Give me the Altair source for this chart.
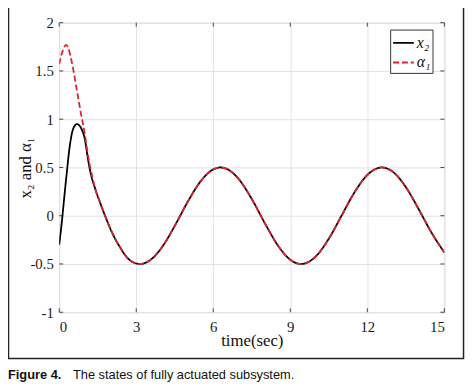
import altair as alt
import pandas as pd

# ---------------- data ----------------
x_ticks = [0, 3, 6, 9, 12, 15]
y_ticks = [-1, -0.5, 0, 0.5, 1, 1.5, 2]
series_names = ["x₂", "α₁"]
series_colors = ["#000000", "#e0202e"]

# transient part of x2 (black, solid)
t_x2_head = [0.0, 0.1, 0.2, 0.3, 0.4, 0.5, 0.6, 0.7, 0.8, 0.9, 1.0, 1.1, 1.2]
v_x2_head = [-0.30, -0.07, 0.20, 0.46, 0.70, 0.86, 0.93, 0.95, 0.93, 0.88, 0.79, 0.62, 0.47]

# transient part of alpha1 (red, dashed)
t_a1_head = [0.0, 0.1, 0.2, 0.27, 0.35, 0.45, 0.55, 0.7, 0.86, 1.0, 1.1, 1.2, 1.3]
v_a1_head = [1.57, 1.68, 1.75, 1.77, 1.74, 1.64, 1.51, 1.28, 1.04, 0.84, 0.66, 0.51, 0.39]

# common part (both curves coincide)
t_tail = [1.4, 1.6, 1.8, 2.0, 2.2, 2.4, 2.6, 2.8, 3.0, 3.14,
          3.5, 4.0, 4.5, 5.0, 5.5, 6.0, 6.28, 6.5, 7.0, 7.5, 8.0, 8.5, 9.0, 9.42,
          10.0, 10.5, 11.0, 11.5, 12.0, 12.57, 13.0, 13.5, 14.0, 14.5, 15.0]
v_tail = [0.28, 0.13, -0.01, -0.14, -0.25, -0.34, -0.42, -0.47, -0.495, -0.5,
          -0.468, -0.327, -0.105, 0.142, 0.354, 0.480, 0.5, 0.488, 0.377, 0.173, -0.073, -0.301, -0.456, -0.5,
          -0.420, -0.238, 0.002, 0.242, 0.422, 0.5, 0.454, 0.297, 0.068, -0.175, -0.380]

caption_bold = "Figure 4."
caption_text = "The states of fully actuated subsystem."

# ---------------- build table ----------------
rows = []
for t, v in zip(t_x2_head + t_tail, v_x2_head + v_tail):
    rows.append({"t": t, "v": v, "s": series_names[0]})
for t, v in zip(t_a1_head + t_tail, v_a1_head + v_tail):
    rows.append({"t": t, "v": v, "s": series_names[1]})
df = pd.DataFrame(rows)

W, H = 391, 294
SERIF = "Liberation Serif"

xs = alt.Scale(domain=[0, 15], nice=False, zero=False)
ys = alt.Scale(domain=[-1, 2], nice=False, zero=False)

legend = alt.Legend(
    title=None, orient="none", legendX=336, legendY=7,
    symbolType="stroke", symbolSize=441, symbolStrokeWidth=2,
    labelFont=SERIF, labelFontStyle="italic", labelFontSize=16, labelColor="#111",
    labelOffset=2, padding=2, rowPadding=0,
    strokeColor="#333", fillColor="white",
)

color_enc = alt.Color("s:N", scale=alt.Scale(domain=series_names, range=series_colors), legend=legend)
dash_enc = alt.StrokeDash("s:N", scale=alt.Scale(domain=series_names, range=[[1, 0], [6, 3]]), legend=legend)

x_enc = alt.X("t:Q", scale=xs, axis=alt.Axis(
    values=x_ticks, title="time(sec)", format="d",
    labelFont=SERIF, labelFontSize=15, labelColor="#1a1a1a", labelPadding=8,
    ticks=False, domain=False, grid=True, gridColor="#e2e2e2",
    titleFont=SERIF, titleFontSize=17, titleFontWeight="normal", titleColor="#111",
    titleX=W / 2, titleY=29, titleBaseline="middle", titleAlign="center",
))
y_enc = alt.Y("v:Q", scale=ys, axis=alt.Axis(
    values=y_ticks, title="x₂ and α₁", labelExpr="datum.value + ''",
    labelFont=SERIF, labelFontSize=15, labelColor="#1a1a1a", labelPadding=6,
    ticks=False, domain=False, grid=True, gridColor="#e2e2e2",
    titleFont=SERIF, titleFontSize=17, titleFontWeight="normal", titleColor="#111",
    titleX=-34, titleY=H / 2, titleBaseline="middle", titleAlign="center", titleAngle=270,
))

base = alt.Chart(df).mark_line(strokeWidth=1.8, interpolate="monotone", clip=True).encode(
    x=x_enc, y=y_enc, color=color_enc, strokeDash=dash_enc,
)
line_x2 = base.transform_filter(alt.datum.s == series_names[0])
line_a1 = base.transform_filter(alt.datum.s == series_names[1])

# inward ticks on all four sides (MATLAB box style)
xt = pd.DataFrame({"t": x_ticks})
yt = pd.DataFrame({"v": y_ticks})
tick_col = "#444"
xb = alt.Chart(xt).mark_rule(color=tick_col, strokeWidth=1).encode(
    x=alt.X("t:Q", scale=xs), y=alt.value(H), y2=alt.value(H - 4))
xtp = alt.Chart(xt).mark_rule(color=tick_col, strokeWidth=1).encode(
    x=alt.X("t:Q", scale=xs), y=alt.value(0), y2=alt.value(4))
yl = alt.Chart(yt).mark_rule(color=tick_col, strokeWidth=1).encode(
    y=alt.Y("v:Q", scale=ys), x=alt.value(0), x2=alt.value(4))
yr = alt.Chart(yt).mark_rule(color=tick_col, strokeWidth=1).encode(
    y=alt.Y("v:Q", scale=ys), x=alt.value(W), x2=alt.value(W - 4))

one = alt.Data(values=[{"a": 1}])
frame = alt.Chart(one).mark_rect(fillOpacity=0, stroke="#222", strokeWidth=1.5).encode(
    x=alt.value(-51.5), x2=alt.value(410.5), y=alt.value(-16), y2=alt.value(341))
cap1 = alt.Chart(one).mark_text(
    text=caption_bold, font="Liberation Sans", fontSize=13, fontWeight="bold",
    align="left", baseline="top", color="#111").encode(x=alt.value(-52), y=alt.value(352))
cap2 = alt.Chart(one).mark_text(
    text=caption_text, font="Liberation Sans", fontSize=13,
    align="left", baseline="top", color="#111").encode(x=alt.value(14), y=alt.value(352))

chart = alt.layer(xb, xtp, yl, yr, line_x2, line_a1, frame, cap1, cap2).properties(
    width=W, height=H,
    autosize=alt.AutoSizeParams(type="none"),
    padding={"left": 52, "top": 12, "right": 22, "bottom": 73},
).configure_view(stroke="#444", strokeWidth=1).configure(background="white")

chart.save("out.html", embed_options={"renderer": "svg", "actions": False})
